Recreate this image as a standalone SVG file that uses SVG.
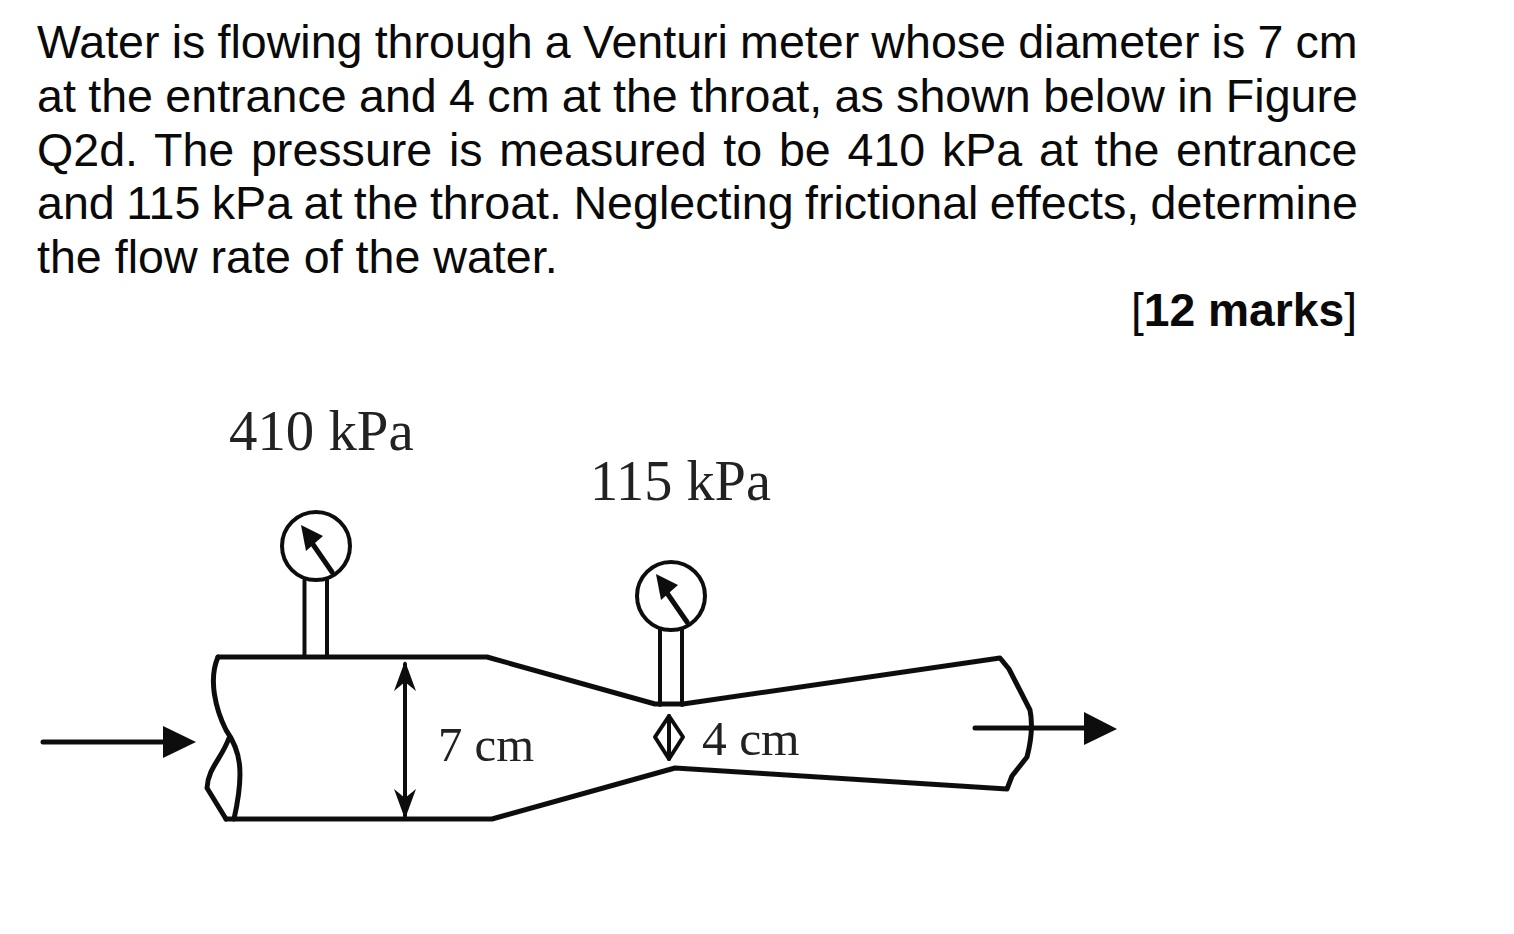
<svg xmlns="http://www.w3.org/2000/svg" width="1514" height="934" viewBox="0 0 1514 934">
<style>
.q{font-family:"Liberation Sans",Arial,sans-serif;font-size:46.6px;fill:#0a0a0a}
.b{font-weight:bold}
.l{font-family:"Liberation Serif","Times New Roman",serif;fill:#222}
.s{fill:none;stroke:#111;stroke-linejoin:round;stroke-linecap:round}
.w{stroke-width:5}
.t{stroke-width:4}
.f{fill:#0c0c0c;stroke:none}
</style>
<defs><filter id="soft" x="-5%" y="-5%" width="110%" height="110%"><feGaussianBlur stdDeviation="0.7"/></filter></defs>
<rect width="1514" height="934" fill="#fff"/>
<g id="question">
<text class="q" x="37" y="58" word-spacing="-0.8">Water is flowing through a Venturi meter whose diameter is 7 cm</text>
<text class="q" x="37" y="112" word-spacing="-0.6">at the entrance and 4 cm at the throat, as shown below in Figure</text>
<text class="q" x="37" y="166" word-spacing="3.8">Q2d. The pressure is measured to be 410 kPa at the entrance</text>
<text class="q" x="37" y="219" word-spacing="-1.55">and 115 kPa at the throat. Neglecting frictional effects, determine</text>
<text class="q" x="37" y="273">the flow rate of the water.</text>
<text class="q" x="1357" y="326" text-anchor="end" font-size="46.200" style="font-size:46.2px">[<tspan class="b">12 marks</tspan>]</text>
</g>
<g filter="url(#soft)">
<g id="connectors">
<path class="s w" d="M43 742H168"/>
<polygon class="f" points="163,726 196,742 163,758"/>
<path class="s w" d="M975 728H1090"/>
<polygon class="f" points="1084,712 1117,729 1084,745"/>
</g>
<g id="pipe">
<path class="s w" d="M218 657H487L655 704H683L1000 658L1009 669L1030 710Q1034 730 1027 757L1012 776L1007 789L675 768L492 819H226"/>
<path class="s w" d="M218 657C208 680 216 710 226 730C240 750 245 770 234 819"/>
<path class="s w" d="M229 738C222 758 208 768 207 788L226 819"/>
</g>
<g id="gauge-entrance">
<circle class="s t" cx="316" cy="546" r="34"/>
<path class="s t" d="M304.500 580V657M327 580V657"/>
<path class="s w" d="M332 572L312 543"/>
<polygon class="f" points="301,525 323,536 306,551"/>
</g>
<g id="gauge-throat">
<circle class="s t" cx="671" cy="596" r="34"/>
<path class="s t" d="M660 629V705M682 629V705"/>
<path class="s w" d="M687 622L667 593"/>
<polygon class="f" points="656,574 678,585 661,600"/>
</g>
<g id="dim-entrance">
<path class="s t" d="M405 664V816"/>
<polygon class="f" points="405,661 416,691 405,682 394,691"/>
<polygon class="f" points="405,819 394,789 405,798 416,789"/>
</g>
<g id="dim-throat">
<path class="s t" d="M669 716V759"/>
<path class="s t" d="M669 716L683 737L669 759L655 737Z"/>
</g>
<text class="l" x="229" y="450" font-size="56.800">410 kPa</text>
<text class="l" x="590" y="500" font-size="56.300">115 kPa</text>
<text class="l" x="438" y="761" font-size="48.700">7 cm</text>
<text class="l" x="702" y="755" font-size="49.500">4 cm</text>
</g>
</svg>
